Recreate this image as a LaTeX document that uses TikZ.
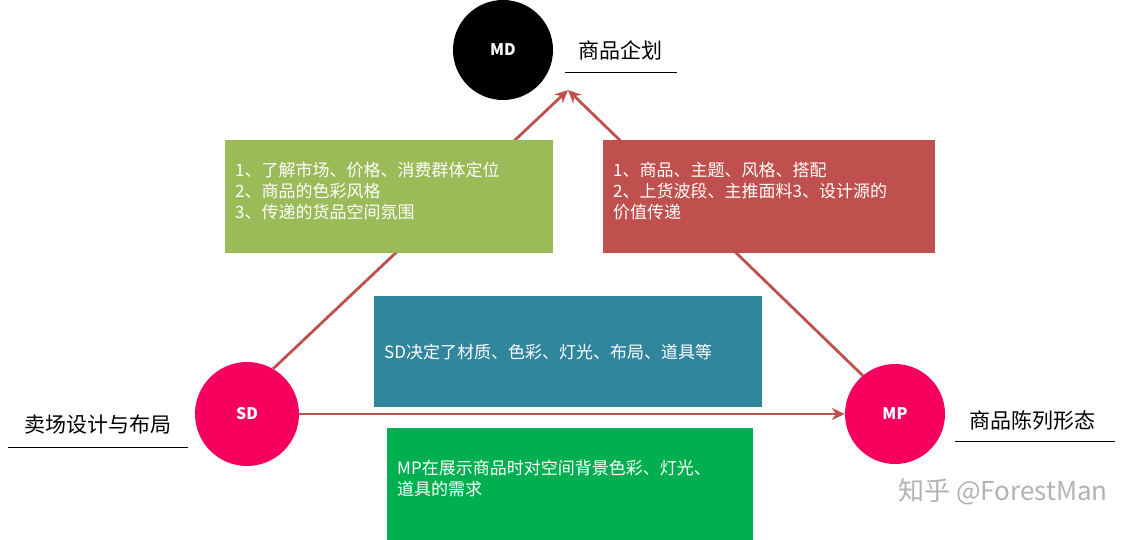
\documentclass[tikz,border=0pt]{standalone}
\usepackage{fontspec}
\setmainfont{Noto Sans CJK SC}
\usetikzlibrary{arrows.meta}
\definecolor{arr}{HTML}{C0504D}
\definecolor{pinkc}{HTML}{F5005F}
\definecolor{gbox}{HTML}{9BBB59}
\definecolor{rbox}{HTML}{C0504D}
\definecolor{tbox}{HTML}{31859C}
\definecolor{g2box}{HTML}{00B050}
\tikzset{
 circ/.style={circle,minimum size=#1,inner sep=0pt,text=white,font=\fontsize{16}{16}\selectfont\bfseries},
 boxs/.style={anchor=north west,inner sep=0pt,text=white,font=\fontsize{17}{21}\selectfont,align=left},
 lab/.style={font=\fontsize{21}{22}\selectfont},
 conn/.style={arr,line width=2.8pt,-{Stealth[length=13pt,width=12pt]}},
 uline/.style={line width=0.6pt}
}
\begin{document}
\begin{tikzpicture}[x=1pt,y=-1pt]
\useasboundingbox (0,0) rectangle (1140,540);
\node[circ=100pt,fill=black] (md) at (503,50) {MD};
\node[circ=104pt,fill=pinkc] (sd) at (247,414) {SD};
\node[circ=100pt,fill=pinkc] (mp) at (895,414) {MP};
\coordinate (mdl) at (568,90);
\draw[conn] (sd.60) -- (mdl);
\draw[conn] (mp.130) -- (mdl);
\draw[conn] (sd.east) -- (mp.west);
\fill[gbox] (225,140) rectangle (553,253);
\node[boxs] (g) at (235,162) {1、了解市场、价格、消费群体定位\\2、商品的色彩风格\\3、传递的货品空间氛围};
\fill[rbox] (603,140) rectangle (935,253);
\node[boxs] (r) at (613,162) {1、商品、主题、风格、搭配\\2、上货波段、主推面料3、设计源的\\价值传递};
\fill[tbox] (374,296) rectangle (762,407);
\node[boxs,anchor=west] (t) at (384,352) {SD决定了材质、色彩、灯光、布局、道具等};
\fill[g2box] (387,428) rectangle (753,540);
\node[boxs] (m) at (397,460) {MP在展示商品时对空间背景色彩、灯光、\\道具的需求};
\node[lab] (l1) at (620,50) {商品企划};
\draw[uline] (565,72) -- (677,72);
\node[lab] (l2) at (98,425) {卖场设计与布局};
\draw[uline] (8,447) -- (188,447);
\node[lab] (l3) at (1032,420) {商品陈列形态};
\draw[uline] (955,441) -- (1115,441);
\node[font=\fontsize{26}{26}\selectfont,text=gray!60] (wm) at (1003,492) {知乎 @ForestMan};
\end{tikzpicture}
\end{document}
